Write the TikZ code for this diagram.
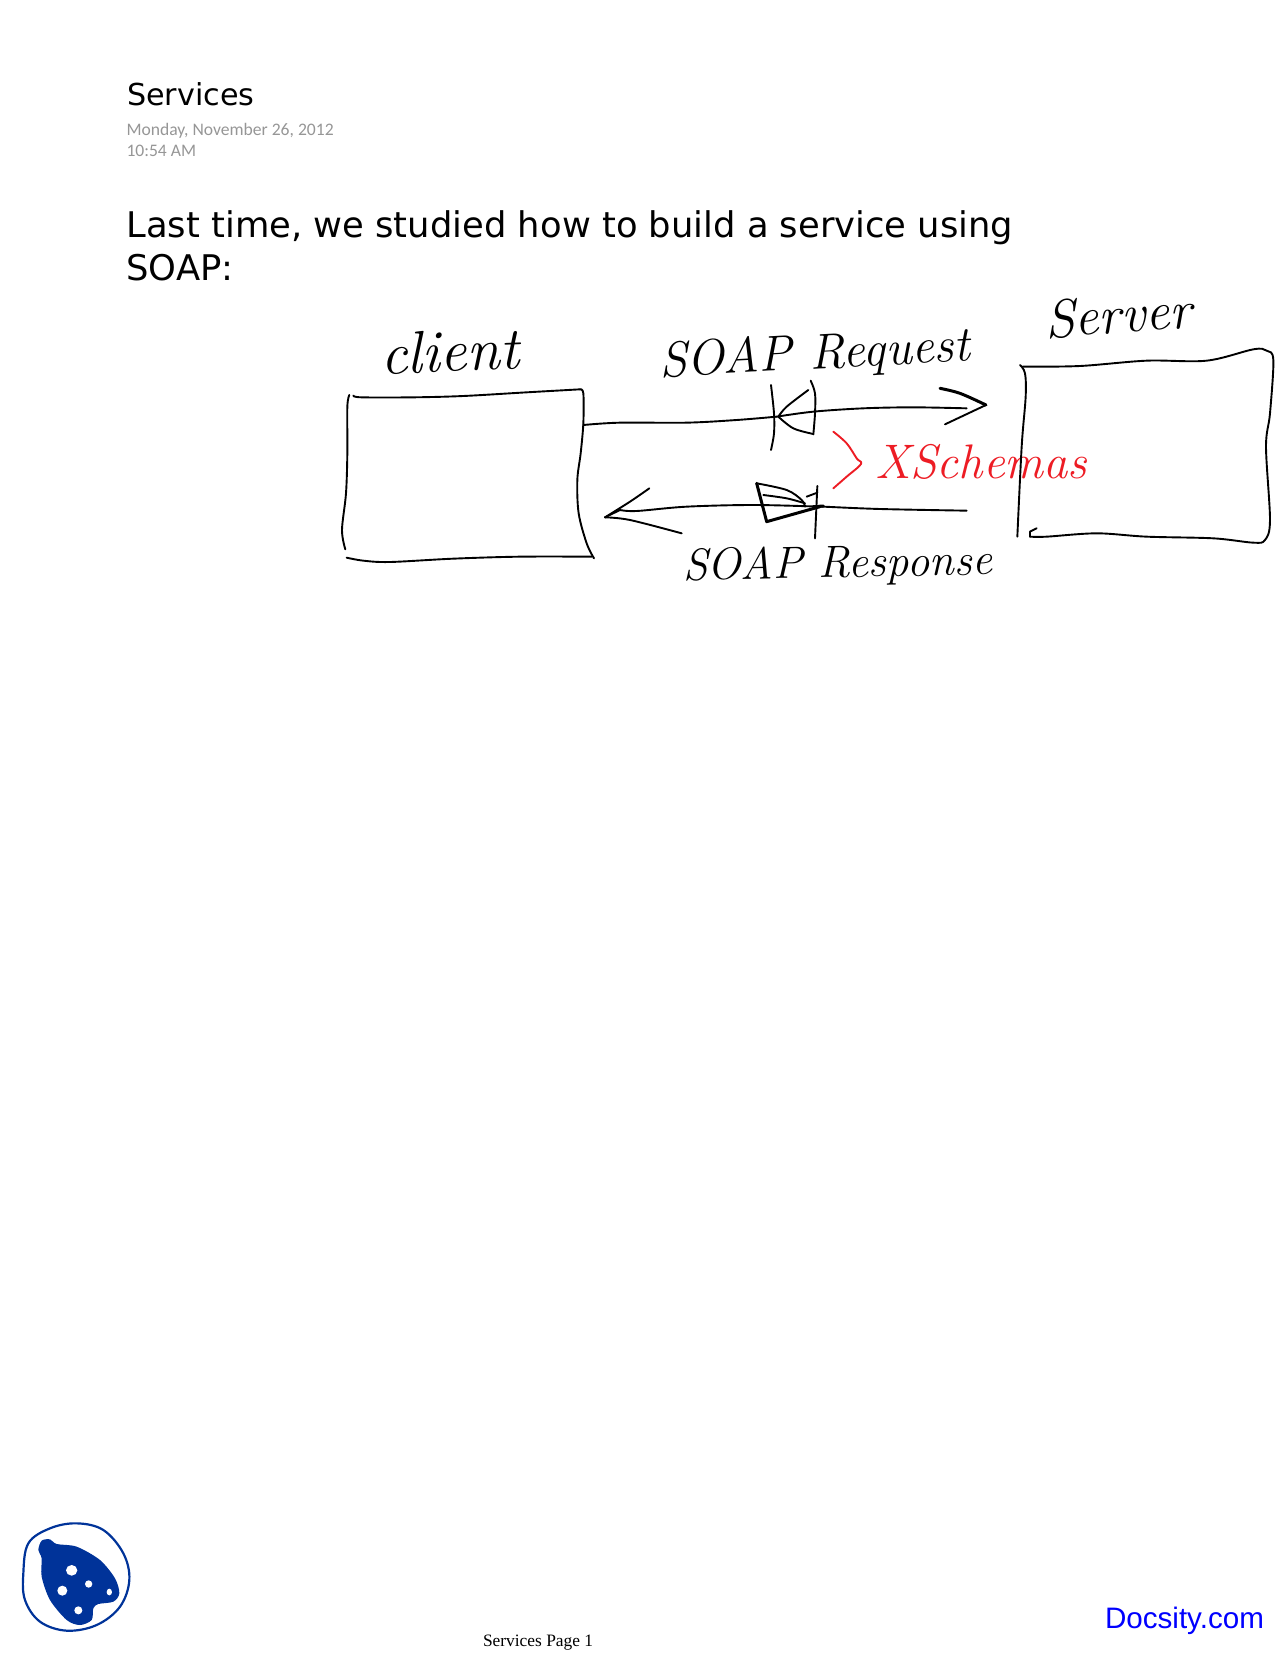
\documentclass[tikz,border=0pt]{standalone}
\usepackage{fontspec}
\newfontfamily\dejavufont{DejaVu Sans}
\newfontfamily\carlitofont{Carlito}
\newfontfamily\timesfont{Liberation Serif}
\newfontfamily\arialfont{Liberation Sans}
\definecolor{inkred}{RGB}{237,28,36}
\definecolor{logoblue}{RGB}{0,51,153}
\definecolor{dategray}{RGB}{150,150,150}
\definecolor{linkblue}{RGB}{0,0,255}
\newcommand{\fsz}[1]{\fontsize{#1}{#1}\selectfont}
\tikzset{
  ink/.style={draw=black,line width=1.9pt,line cap=round,line join=round},
  thickink/.style={ink,line width=3pt},
  redink/.style={ink,draw=inkred},
  printed/.style={anchor=base west,inner sep=0pt,outer sep=0pt},
  hand/.style={printed,font=\itshape},
  zoomA/.style={shift={(320,280)},x=0.33333pt,y=-0.33333pt},
  zoomB/.style={shift={(780,280)},x=0.33333pt,y=-0.33333pt},
  zoomC/.style={shift={(0,1500)},x=0.33333pt,y=-0.33333pt},
  wob/.style={smooth,tension=0.55}
}
\begin{document}
\begin{tikzpicture}[x=1pt,y=-1pt]
\useasboundingbox (0,0) rectangle (1280,1656);
% printed text
\node[printed,font=\dejavufont\fsz{30.2}] (title) at (127,105.5) {Services};
\node[printed,font=\carlitofont\fsz{17.6},text=dategray] (date) at (126.5,136) {Monday, November 26, 2012};
\node[printed,font=\carlitofont\fsz{17.6},text=dategray] (time) at (126.5,157) {10:54 AM};
\node[printed,font=\dejavufont\fsz{35.35}] (line1) at (126.5,237) {Last time, we studied how to build a service using};
\node[printed,font=\dejavufont\fsz{35.35}] (line2) at (126.5,280) {SOAP:};
\node[printed,font=\timesfont\fsz{17.4}] (footer) at (483,1646) {Services Page 1};
\node[printed,font=\arialfont\fsz{29.6},text=linkblue] (docsity) at (1105,1628) {Docsity.com};
% handwritten labels
\node[hand,font=\itshape\fsz{60},rotate=2] (client) at (381,374) {client};
\node[hand,font=\itshape\fsz{50},rotate=3] (soapreq) at (660,377) {SOAP Request};
\node[hand,font=\itshape\fsz{54},rotate=4] (server) at (1046,338) {Server};
\node[hand,font=\itshape\fsz{48.5},text=inkred] (xschemas) at (875,478) {XSchemas};
\node[hand,font=\itshape\fsz{45},rotate=1] (soapresp) at (683,580) {SOAP Response};
% client box
\begin{scope}[zoomA]
\draw[ink] plot[wob] coordinates {(88,345) (82,380) (82,520) (78,640) (66,750) (76,808)};
\draw[ink] plot[wob] coordinates {(100,347) (125,352) (280,352) (430,348) (620,337) (780,328)};
\draw[ink] plot[wob] coordinates {(780,328) (790,340) (790,430) (782,520) (772,600) (776,700) (800,790) (822,835)};
\draw[ink] plot[wob] coordinates {(80,833) (130,842) (210,846) (400,836) (600,830) (815,830)};
\coordinate (reqstart) at (790,435);
\coordinate (reqmid) at (1370,410);
\coordinate (resptip) at (900,690);
\coordinate (respmid) at (1500,680);
\draw[ink] plot[wob] coordinates {(reqstart) (900,428) (1100,428) (1250,420) (reqmid)};
% response arrowhead
\draw[ink] plot[wob] coordinates {(988,625) (930,665) (855,712)};
\draw[ink] plot[wob] coordinates {(855,712) (930,720) (1085,760)};
\draw[ink] plot[wob] coordinates {(resptip) (950,693) (1100,680) (1300,675) (respmid)};
\draw[ink] (900,690) -- (855,712);
% request bow-tie mark, left part
\draw[ink] plot[wob] coordinates {(1353,315) (1362,400) (1362,460) (1353,510)};
\draw[ink] plot[wob] coordinates {(1465,330) (1400,380) (1375,410)};
\draw[ink] plot[wob] coordinates {(1375,410) (1420,445) (1480,462)};
% response bow-tie mark, left part
\draw[thickink] (1310,610) -- (1340,725) -- (respmid);
\draw[ink] plot[wob] coordinates {(1310,610) (1400,630) (1445,660) (1455,680)};
\draw[ink] plot[wob] coordinates {(1330,645) (1400,655) (1455,670)};
\end{scope}
% server box, connector ends
\begin{scope}[zoomB]
\coordinate (reqend) at (560,385);
\draw[ink] plot[wob] coordinates {(reqmid) (100,395) (250,385) (400,382) (reqend)};
\draw[thickink] plot[wob] coordinates {(480,325) (540,340) (618,375)};
\draw[ink] (618,375) -- (495,433);
\draw[ink] plot[wob] coordinates {(92,302) (105,340) (105,400) (100,463)};
\coordinate (respend) at (560,692);
\draw[ink] plot[wob] coordinates {(respend) (300,687) (130,680) (respmid)};
\draw[ink] (112,618) -- (105,775);
\draw[ink] (80,650) -- (112,638);
\draw[thickink] (100,680) -- (130,678);
\draw[ink] plot[wob] coordinates {(720,255) (735,280) (737,350) (725,500) (712,770)};
\draw[ink] plot[wob] coordinates {(728,260) (900,258) (1100,242) (1280,242) (1420,208) (1460,212) (1480,240) (1470,400) (1458,500) (1470,720) (1455,780) (1420,788) (1300,775) (1100,770) (950,760) (800,770) (750,770)};
\draw[ink] (750,770) -- (750,755) -- (770,745);
\draw[redink] plot[wob] coordinates {(160,455) (200,490) (230,535) (243,552) (200,590) (160,625)};
\end{scope}
% logo
\begin{scope}[zoomC]
\draw[draw=logoblue,line width=2.2pt] plot[smooth cycle,tension=0.6] coordinates {(70,220) (85,130) (150,85) (230,70) (310,90) (370,160) (388,240) (360,320) (290,375) (200,392) (120,365) (75,300)};
\fill[logoblue] plot[smooth cycle,tension=0.5] coordinates {(115,150) (125,122) (150,118) (170,132) (230,140) (300,180) (345,235) (358,280) (340,305) (295,312) (280,325) (275,360) (240,375) (200,360) (150,300) (125,230) (125,175)};
\fill[white] (215,211) ellipse [x radius=17,y radius=16];
\fill[white] (187,272) ellipse [x radius=15,y radius=15];
\fill[white] (266,252) ellipse [x radius=11,y radius=11];
\fill[white] (328,276) ellipse [x radius=8,y radius=10];
\fill[white] (235,331) ellipse [x radius=12,y radius=12];
\end{scope}
\end{tikzpicture}
\end{document}
